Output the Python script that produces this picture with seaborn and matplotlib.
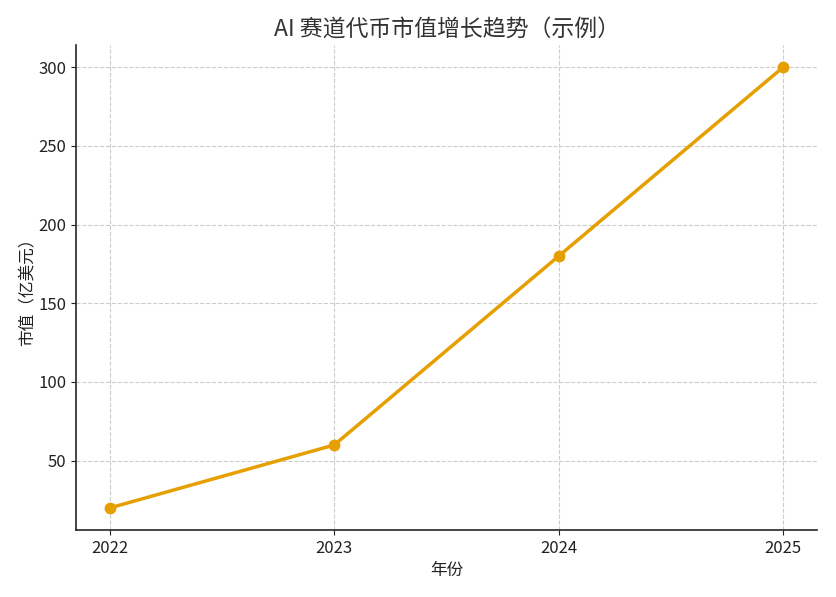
import matplotlib
matplotlib.use("Agg")
import matplotlib.pyplot as plt
import seaborn as sns
import pandas as pd

years = [2022, 2023, 2024, 2025]
market_cap = [20, 60, 180, 300]
title = "AI 赛道代币市值增长趋势（示例）"
xlabel = "年份"
ylabel = "市值（亿美元）"

sns.set_style("ticks")
plt.rcParams['font.family'] = ['Noto Sans CJK SC', 'DejaVu Sans']

df = pd.DataFrame({"year": years, "cap": market_cap})

fig = plt.figure(figsize=(8.36, 5.97), dpi=100)
ax = fig.add_axes([76/836, 1 - 530/597, (817-76)/836, (530-45)/597])
sns.lineplot(data=df, x="year", y="cap", ax=ax, color="#E69F00", linewidth=2.5,
             marker="o", markersize=8.5, markeredgewidth=0)
ax.set_xticks(years)
ax.set_xticklabels([str(y) for y in years])
ax.grid(True, linestyle="--", color="#cccccc", linewidth=0.8)
sns.despine(ax=ax)
ax.spines['left'].set_linewidth(1.2)
ax.spines['bottom'].set_linewidth(1.2)
ax.tick_params(labelsize=12, colors="#222222")
ax.set_xlabel(xlabel, fontsize=12, color="#222222")
ax.set_ylabel(ylabel, fontsize=12, color="#222222", labelpad=1)
ax.set_title(title, fontsize=16.5, color="#333333", pad=6)
fig.savefig("out.png", dpi=100)
